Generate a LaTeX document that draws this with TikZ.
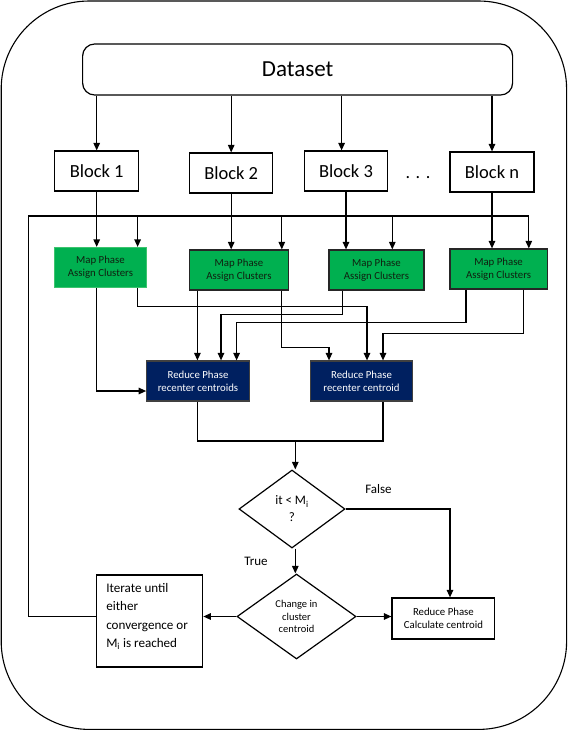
\documentclass[tikz,border=0pt]{standalone}
\usepackage{fontspec}
\setmainfont{Carlito}
\usetikzlibrary{arrows.meta,shapes.geometric,calc}
\definecolor{mapgreen}{HTML}{00B050}
\definecolor{mapedge}{HTML}{3CC46E}
\definecolor{navyblue}{HTML}{002060}
\definecolor{maptext}{HTML}{102010}
\begin{document}
\begin{tikzpicture}[x=1pt,y=-1pt,line width=1.2pt,
  arr/.style={-{Triangle[length=7.5pt,width=6.5pt]}},
  plainbox/.style={draw=black,fill=white,line width=1.2pt,inner sep=0pt},
  blockbox/.style={plainbox,minimum width=84pt,minimum height=40pt,font=\fontsize{18.5}{20}\selectfont},
  mapbox/.style={draw=black!85,fill=mapgreen,inner sep=0pt,minimum height=40pt,align=center,text=maptext,font=\fontsize{10.8}{12.7}\selectfont},
  redbox/.style={draw=black!75,fill=navyblue,inner sep=0pt,minimum height=40pt,minimum width=102pt,align=center,text=white,font=\fontsize{10.8}{12.7}\selectfont},
  dia/.style={diamond,draw=black,fill=white,inner sep=0pt,align=center},
  lbl/.style={inner sep=0pt,font=\fontsize{13}{15}\selectfont}
]
\useasboundingbox (0,0) rectangle (568,731);
% outer frame
\draw[line width=1.1pt,rounded corners=88pt] (1.2,1) rectangle (566.6,729.4);

% dataset
\node[plainbox,rounded corners=12pt,minimum width=430pt,minimum height=51pt,font=\fontsize{23}{26}\selectfont] (ds) at (297.6,69.5) {Dataset};

% blocks
\node[blockbox] (b1) at (96.7,171) {Block 1};
\node[blockbox,minimum width=83.3pt] (b2) at (231.2,173) {Block 2};
\node[blockbox,minimum width=83.3pt] (b3) at (346,171) {Block 3};
\node[blockbox] (bn) at (492,172) {Block n};
\node[inner sep=0pt,font=\fontsize{18}{20}\selectfont] (dots) at (418,178) {.\hspace{5.5pt}.\hspace{5.5pt}.};

% map boxes
\node[mapbox,draw=mapedge,minimum width=92.5pt] (m1) at (100.5,267.5) {Map Phase\\Assign Clusters};
\node[mapbox,minimum width=99pt] (m2) at (239,270) {Map Phase\\Assign Clusters};
\node[mapbox,minimum width=95pt] (m3) at (376.5,270) {Map Phase\\Assign Clusters};
\node[mapbox,minimum width=97.3pt] (m4) at (498.6,269) {Map Phase\\Assign Clusters};

% reduce boxes
\node[redbox,minimum width=102.5pt] (r1) at (198,381) {Reduce Phase\\recenter centroids};
\node[redbox] (r2) at (361.5,381) {Reduce Phase\\recenter centroid};

% decisions
\node[dia,minimum width=106pt,minimum height=78pt,aspect=1.36,font=\fontsize{13}{17}\selectfont] (d1) at (292,509) {it {\char"3C} M\textsubscript{i}\\?};
\node[dia,minimum width=119pt,minimum height=85pt,aspect=1.4,font=\fontsize{10.5}{12.7}\selectfont] (d2) at (296.5,616.5) {Change in\\cluster\\centroid};

\node[plainbox,minimum width=102.8pt,minimum height=41pt,align=center,font=\fontsize{10.8}{13}\selectfont] (calc) at (443.4,618.5) {Reduce Phase\\Calculate centroid};
\node[plainbox,minimum width=106.5pt,minimum height=92pt] (iter) at (149.5,621) {};
\node[inner sep=0pt,anchor=west,align=left,font=\fontsize{13.1}{18.3}\selectfont] (itertext) at ([xshift=10pt,yshift=4.5pt]iter.west) {Iterate until\\either\\convergence or\\M\textsubscript{i} is reached};

\node[lbl] (false) at (378.5,489) {False};
\node[lbl] (true) at (256,561) {True};

% dataset to blocks
\draw[arr] (b1.north |- ds.south) -- (b1.north);
\draw[arr] (b2.north |- ds.south) -- (b2.north);
\draw[arr] ([xshift=-4.4pt]b3.north |- ds.south) -- ([xshift=-4.4pt]b3.north);
\draw[arr] (bn.north |- ds.south) -- (bn.north);

% blocks to maps
\draw[arr] (b1.south) -- (b1.south |- m1.north);
\draw[arr] (b2.south) -- (b2.south |- m2.north);
\draw[arr] (b3.south) -- (b3.south |- m3.north);
\draw[arr] (bn.south) -- (bn.south |- m4.north);

% feedback loop
\coordinate (fb) at (28.3,216);
\coordinate (fbR) at (528.8,216);
\draw (d2.west -| iter.west) -- (d2.west -| fb) -- (fb) -- (fbR);
\draw[arr] ([xshift=37.1pt]m1.north |- fb) -- ([xshift=37.1pt]m1.north);
\draw[arr] ([xshift=42.8pt]m2.north |- fb) -- ([xshift=42.8pt]m2.north);
\draw[arr] ([xshift=15.8pt]m3.north |- fb) -- ([xshift=15.8pt]m3.north);
\draw[arr] (fbR) -- (fbR |- m4.north);

% maps to reduces
\draw[arr] ([xshift=-4.1pt]m1.south) |- ([yshift=-10pt]r1.west);
\draw[arr] ([xshift=37.1pt]m1.south) -- ++(0,18.5) -| ([xshift=5.5pt]r2.north);
\draw[arr] ([xshift=-41.6pt]m2.south) -- ([xshift=-41.6pt]m2.south |- r1.north);
\draw[arr] ([xshift=42.8pt]m2.south) -- ++(0,57) -| ([xshift=-32.5pt]r2.north);
\draw[arr] ([xshift=-34.1pt]m3.south) -- ++(0,24) -| ([xshift=23pt]r1.north);
\draw[arr] ([xshift=-32.6pt]m4.south) -- ++(0,33) -| ([xshift=38.6pt]r1.north);
\draw[arr] ([xshift=24.9pt]m4.south) -- ++(0,44) -| ([xshift=21.5pt]r2.north);

% reduces merge
\coordinate (mg) at (295.3,441);
\draw ([xshift=-0.6pt]r1.south) |- (mg) -| ([xshift=21.5pt]r2.south);
\draw[arr] (mg) -- (mg |- d1.north);
\draw[arr] (mg |- d1.south) -- (mg |- d2.north);

% decisions outputs
\draw[arr] (d1.east) -| ([xshift=6.6pt]calc.north);
\draw[arr] (d2.west) -- (d2.west -| iter.east);
\draw[arr] (d2.east) -- (d2.east -| calc.west);
\end{tikzpicture}
\end{document}
